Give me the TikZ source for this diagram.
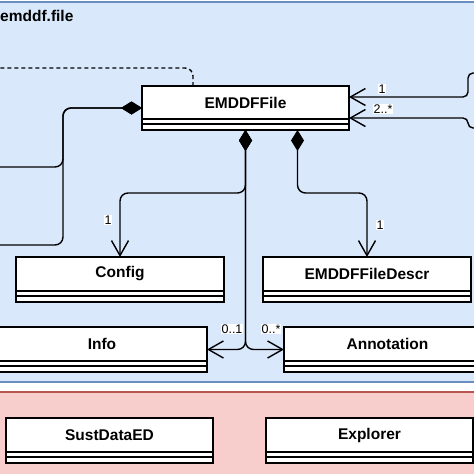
\documentclass[tikz,border=0pt]{standalone}
\usepackage{fontspec}
\setmainfont{Liberation Sans}
\usetikzlibrary{arrows.meta,calc}
\definecolor{pkgblue}{HTML}{DAE8FC}
\definecolor{pkgblueline}{HTML}{6C8EBF}
\definecolor{pkgpink}{HTML}{F8CECC}
\definecolor{pkgpinkline}{HTML}{B85450}
\tikzset{
 clsbox/.style={draw=black, fill=white, line width=1.4pt, inner sep=0pt, outer sep=0pt, rectangle},
 clsline/.style={draw=black, line width=1.4pt},
 clstext/.style={font=\bfseries\fontsize{15.5}{18}\selectfont, inner sep=0pt},
 conn/.style={draw=black, line width=1.4pt, rounded corners=8pt},
 compo/.style={conn, {Diamond[length=21pt,width=13pt]}-},
 assoc/.style={conn, -{Straight Barb[length=15pt,width=17pt]}},
 compassoc/.style={conn, {Diamond[length=21pt,width=13pt]}-{Straight Barb[length=15pt,width=17pt]}},
 mult/.style={font=\fontsize{12.5}{14}\selectfont, fill=white, inner sep=1pt},
 pkglabel/.style={font=\bfseries\fontsize{15.5}{18}\selectfont, anchor=west, inner sep=0pt},
}
\newcommand\umlcls[6]{%
  \node[clsbox, minimum width={#4-(#2)}, minimum height={#5-(#3)}, anchor=north west] (#1) at (#2,#3) {};
  \draw[clsline] ([yshift=11pt]#1.south west) -- ([yshift=11pt]#1.south east);
  \draw[clsline] ([yshift=6pt]#1.south west) -- ([yshift=6pt]#1.south east);
  \node[clstext] (#1-t) at ($(#1.north)!0.5!([yshift=11pt]#1.south)$) {#6};
}
\begin{document}
\begin{tikzpicture}[x=1pt,y=-1pt]
\useasboundingbox (0,0) rectangle (474,474);
\clip (0,0) rectangle (474,474);
% packages
\path[fill=pkgblue, draw=pkgblueline, line width=1.2pt] (-10,2) rectangle (484,382);
\path[fill=pkgpink, draw=pkgpinkline, line width=1.2pt] (-10,392) rectangle (484,490);
\node[pkglabel] (pkglbl) at (0,16) {emddf.file};
% classes
\umlcls{emf}{142}{86}{349}{130}{EMDDFFile}
\umlcls{cfg}{16}{257}{224}{302}{Config}
\umlcls{dsc}{263}{257}{471}{302}{EMDDFFileDescr}
\umlcls{inf}{-3}{327}{207}{372}{Info}
\umlcls{ann}{284}{327}{491}{372}{Annotation}
\umlcls{sus}{6}{418}{213}{463}{SustDataED}
\umlcls{expl}{266}{418}{473}{463}{Explorer}
% free ends
\coordinate (dl) at (-6,68);
\coordinate (la) at (-6,167);
\coordinate (lb) at (-6,245);
\coordinate (rc) at (480,73);
\coordinate (rd) at (480,128);
% dashed dependency
\draw[conn, dash pattern=on 4pt off 3pt] ($(emf.north west)+(51,0)$) |- (dl);
% compositions from the left
\draw[compo] (emf.west) -| ([xshift=69pt]la) -- (la);
\draw[compo] (emf.west) -| ([xshift=69pt]lb) -- (lb);
% associations from the right
\draw[assoc, rounded corners=5pt] (rc) -- ([xshift=-12pt]rc) |- ($(emf.east)+(0,-11)$);
\draw[assoc, rounded corners=5pt] (rd) -- ([xshift=-12pt]rd) |- ($(emf.east)+(0,10)$);
\node[mult] (m1) at (382,89) {1};
\node[mult] (m2) at (383,109) {2..*};
% compositions downwards
\draw[compassoc] (emf.south) |- (cfg.north |- 0,193) -- (cfg.north);
\draw[compassoc] ($(emf.south)+(52,0)$) |- (dsc.north |- 0,193) -- (dsc.north);
\draw[compassoc] (emf.south) |- (inf.east);
\draw[compassoc] (emf.south) |- (ann.west);
\node[mult] (m3) at (108,220) {1};
\node[mult] (m4) at (380,225) {1};
\node[mult] (m5) at (232,329) {0..1};
\node[mult] (m6) at (271,329) {0..*};
\end{tikzpicture}
\end{document}
